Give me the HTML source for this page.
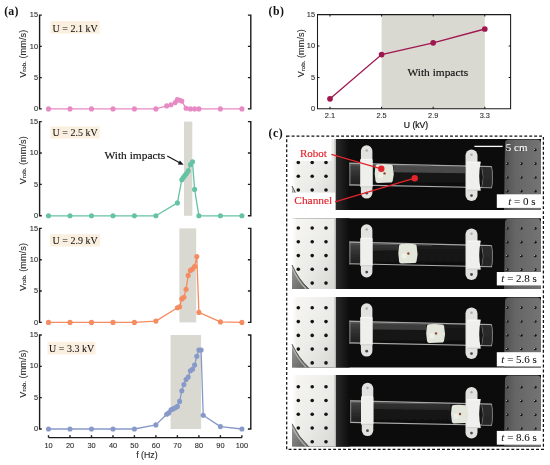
<!DOCTYPE html>
<html lang="en"><head><meta charset="utf-8"><title>Figure</title>
<style>html,body{margin:0;padding:0;background:#fff}svg{display:block}</style>
</head><body>
<svg width="550" height="465" viewBox="0 0 550 465">
<rect width="550" height="465" fill="#fff"/>
<path d="M41.800000000000004,15.1 H39.6 V108.9 H41.800000000000004 M39.6,46.37 h2.2 M39.6,77.63 h2.2 M247.9,15.1 H250.8 V108.9 H247.9 M250.8,46.37 h-2.9 M250.8,77.63 h-2.9" fill="none" stroke="#1c1c1c" stroke-width="1.4"/>
<text x="38.1" y="111.05" text-anchor="end" font-family='"Liberation Sans", Arial, sans-serif' font-size="7.4" fill="#2a2a2a" stroke="#2a2a2a" stroke-width="0.1">0</text>
<text x="38.1" y="79.78" text-anchor="end" font-family='"Liberation Sans", Arial, sans-serif' font-size="7.4" fill="#2a2a2a" stroke="#2a2a2a" stroke-width="0.1">5</text>
<text x="38.1" y="48.52" text-anchor="end" font-family='"Liberation Sans", Arial, sans-serif' font-size="7.4" fill="#2a2a2a" stroke="#2a2a2a" stroke-width="0.1">10</text>
<text x="38.1" y="17.25" text-anchor="end" font-family='"Liberation Sans", Arial, sans-serif' font-size="7.4" fill="#2a2a2a" stroke="#2a2a2a" stroke-width="0.1">15</text>
<text transform="translate(25.6,53.7) rotate(-90)" text-anchor="middle" font-family='"Liberation Sans", Arial, sans-serif' font-size="9.05" fill="#2a2a2a" stroke="#2a2a2a" stroke-width="0.12">V<tspan font-size="6.1" dy="0.7">rob.</tspan><tspan dy="-0.7" letter-spacing="0.12"> (mm/s)</tspan></text>
<rect x="50.5" y="21.0" width="49.1" height="12.6" fill="#FBEFE0"/>
<text x="75.1" y="31.5" text-anchor="middle" font-family='"Liberation Serif", "Times New Roman", serif' font-size="10" fill="#111" stroke="#111" stroke-width="0.06">U = 2.1 kV</text>
<polyline points="48.5,108.9 70.0,108.9 91.5,108.9 113.0,108.9 134.4,108.9 155.9,108.9 166.7,105.9 171.0,104.7 175.3,102.6 177.4,99.5 179.6,100.3 181.8,101.1 186.1,108.3 190.4,108.9 194.6,108.9 198.9,108.9 220.4,108.9 241.9,108.9" fill="none" stroke="#E78AC3" stroke-width="1.3" stroke-linejoin="round"/>
<circle cx="48.5" cy="108.9" r="2.55" fill="#E78AC3"/>
<circle cx="70.0" cy="108.9" r="2.55" fill="#E78AC3"/>
<circle cx="91.5" cy="108.9" r="2.55" fill="#E78AC3"/>
<circle cx="113.0" cy="108.9" r="2.55" fill="#E78AC3"/>
<circle cx="134.4" cy="108.9" r="2.55" fill="#E78AC3"/>
<circle cx="155.9" cy="108.9" r="2.55" fill="#E78AC3"/>
<circle cx="166.7" cy="105.9" r="2.55" fill="#E78AC3"/>
<circle cx="171.0" cy="104.7" r="2.55" fill="#E78AC3"/>
<circle cx="175.3" cy="102.6" r="2.55" fill="#E78AC3"/>
<circle cx="177.4" cy="99.5" r="2.55" fill="#E78AC3"/>
<circle cx="179.6" cy="100.3" r="2.55" fill="#E78AC3"/>
<circle cx="181.8" cy="101.1" r="2.55" fill="#E78AC3"/>
<circle cx="186.1" cy="108.3" r="2.55" fill="#E78AC3"/>
<circle cx="190.4" cy="108.9" r="2.55" fill="#E78AC3"/>
<circle cx="194.6" cy="108.9" r="2.55" fill="#E78AC3"/>
<circle cx="198.9" cy="108.9" r="2.55" fill="#E78AC3"/>
<circle cx="220.4" cy="108.9" r="2.55" fill="#E78AC3"/>
<circle cx="241.9" cy="108.9" r="2.55" fill="#E78AC3"/>
<rect x="184.0" y="121.6" width="8.3" height="94.2" fill="#D9D8D1"/>
<path d="M41.800000000000004,121.6 H39.6 V215.8 H41.800000000000004 M39.6,153.00 h2.2 M39.6,184.40 h2.2 M247.9,121.6 H250.8 V215.8 H247.9 M250.8,153.00 h-2.9 M250.8,184.40 h-2.9" fill="none" stroke="#1c1c1c" stroke-width="1.4"/>
<text x="38.1" y="217.95" text-anchor="end" font-family='"Liberation Sans", Arial, sans-serif' font-size="7.4" fill="#2a2a2a" stroke="#2a2a2a" stroke-width="0.1">0</text>
<text x="38.1" y="186.55" text-anchor="end" font-family='"Liberation Sans", Arial, sans-serif' font-size="7.4" fill="#2a2a2a" stroke="#2a2a2a" stroke-width="0.1">5</text>
<text x="38.1" y="155.15" text-anchor="end" font-family='"Liberation Sans", Arial, sans-serif' font-size="7.4" fill="#2a2a2a" stroke="#2a2a2a" stroke-width="0.1">10</text>
<text x="38.1" y="123.75" text-anchor="end" font-family='"Liberation Sans", Arial, sans-serif' font-size="7.4" fill="#2a2a2a" stroke="#2a2a2a" stroke-width="0.1">15</text>
<text transform="translate(25.6,160.2) rotate(-90)" text-anchor="middle" font-family='"Liberation Sans", Arial, sans-serif' font-size="9.05" fill="#2a2a2a" stroke="#2a2a2a" stroke-width="0.12">V<tspan font-size="6.1" dy="0.7">rob.</tspan><tspan dy="-0.7" letter-spacing="0.12"> (mm/s)</tspan></text>
<rect x="50.5" y="126.4" width="49.1" height="12.1" fill="#FBEFE0"/>
<text x="75.1" y="136.1" text-anchor="middle" font-family='"Liberation Serif", "Times New Roman", serif' font-size="10" fill="#111" stroke="#111" stroke-width="0.06">U = 2.5 kV</text>
<polyline points="48.5,215.8 70.0,215.8 91.5,215.8 113.0,215.8 134.4,215.8 155.9,215.8 177.4,202.9 181.8,179.7 183.3,177.5 184.8,175.6 186.3,173.7 188.2,170.9 190.4,164.6 192.5,161.7 194.6,189.4 198.9,215.8 220.4,215.8 241.9,215.8" fill="none" stroke="#66C2A5" stroke-width="1.3" stroke-linejoin="round"/>
<circle cx="48.5" cy="215.8" r="2.55" fill="#66C2A5"/>
<circle cx="70.0" cy="215.8" r="2.55" fill="#66C2A5"/>
<circle cx="91.5" cy="215.8" r="2.55" fill="#66C2A5"/>
<circle cx="113.0" cy="215.8" r="2.55" fill="#66C2A5"/>
<circle cx="134.4" cy="215.8" r="2.55" fill="#66C2A5"/>
<circle cx="155.9" cy="215.8" r="2.55" fill="#66C2A5"/>
<circle cx="177.4" cy="202.9" r="2.55" fill="#66C2A5"/>
<circle cx="181.8" cy="179.7" r="2.55" fill="#66C2A5"/>
<circle cx="183.3" cy="177.5" r="2.55" fill="#66C2A5"/>
<circle cx="184.8" cy="175.6" r="2.55" fill="#66C2A5"/>
<circle cx="186.3" cy="173.7" r="2.55" fill="#66C2A5"/>
<circle cx="188.2" cy="170.9" r="2.55" fill="#66C2A5"/>
<circle cx="190.4" cy="164.6" r="2.55" fill="#66C2A5"/>
<circle cx="192.5" cy="161.7" r="2.55" fill="#66C2A5"/>
<circle cx="194.6" cy="189.4" r="2.55" fill="#66C2A5"/>
<circle cx="198.9" cy="215.8" r="2.55" fill="#66C2A5"/>
<circle cx="220.4" cy="215.8" r="2.55" fill="#66C2A5"/>
<circle cx="241.9" cy="215.8" r="2.55" fill="#66C2A5"/>
<rect x="179.4" y="228.4" width="16.8" height="94.0" fill="#D9D8D1"/>
<path d="M41.800000000000004,228.4 H39.6 V322.4 H41.800000000000004 M39.6,259.73 h2.2 M39.6,291.07 h2.2 M247.9,228.4 H250.8 V322.4 H247.9 M250.8,259.73 h-2.9 M250.8,291.07 h-2.9" fill="none" stroke="#1c1c1c" stroke-width="1.4"/>
<text x="38.1" y="324.55" text-anchor="end" font-family='"Liberation Sans", Arial, sans-serif' font-size="7.4" fill="#2a2a2a" stroke="#2a2a2a" stroke-width="0.1">0</text>
<text x="38.1" y="293.22" text-anchor="end" font-family='"Liberation Sans", Arial, sans-serif' font-size="7.4" fill="#2a2a2a" stroke="#2a2a2a" stroke-width="0.1">5</text>
<text x="38.1" y="261.88" text-anchor="end" font-family='"Liberation Sans", Arial, sans-serif' font-size="7.4" fill="#2a2a2a" stroke="#2a2a2a" stroke-width="0.1">10</text>
<text x="38.1" y="230.55" text-anchor="end" font-family='"Liberation Sans", Arial, sans-serif' font-size="7.4" fill="#2a2a2a" stroke="#2a2a2a" stroke-width="0.1">15</text>
<text transform="translate(25.6,267.0) rotate(-90)" text-anchor="middle" font-family='"Liberation Sans", Arial, sans-serif' font-size="9.05" fill="#2a2a2a" stroke="#2a2a2a" stroke-width="0.12">V<tspan font-size="6.1" dy="0.7">rob.</tspan><tspan dy="-0.7" letter-spacing="0.12"> (mm/s)</tspan></text>
<rect x="50.0" y="234.2" width="50.0" height="12.3" fill="#FBEFE0"/>
<text x="75.1" y="243.9" text-anchor="middle" font-family='"Liberation Serif", "Times New Roman", serif' font-size="10" fill="#111" stroke="#111" stroke-width="0.06">U = 2.9 kV</text>
<polyline points="48.5,322.4 70.0,322.4 91.5,322.4 113.0,322.4 134.4,322.4 155.9,321.1 177.4,307.7 179.6,306.7 181.8,298.9 183.9,297.3 186.1,289.2 188.2,275.4 190.4,270.4 192.5,269.1 194.6,266.6 196.8,256.6 198.9,312.4 220.4,321.9 241.9,322.4" fill="none" stroke="#F58B61" stroke-width="1.3" stroke-linejoin="round"/>
<circle cx="48.5" cy="322.4" r="2.55" fill="#F58B61"/>
<circle cx="70.0" cy="322.4" r="2.55" fill="#F58B61"/>
<circle cx="91.5" cy="322.4" r="2.55" fill="#F58B61"/>
<circle cx="113.0" cy="322.4" r="2.55" fill="#F58B61"/>
<circle cx="134.4" cy="322.4" r="2.55" fill="#F58B61"/>
<circle cx="155.9" cy="321.1" r="2.55" fill="#F58B61"/>
<circle cx="177.4" cy="307.7" r="2.55" fill="#F58B61"/>
<circle cx="179.6" cy="306.7" r="2.55" fill="#F58B61"/>
<circle cx="181.8" cy="298.9" r="2.55" fill="#F58B61"/>
<circle cx="183.9" cy="297.3" r="2.55" fill="#F58B61"/>
<circle cx="186.1" cy="289.2" r="2.55" fill="#F58B61"/>
<circle cx="188.2" cy="275.4" r="2.55" fill="#F58B61"/>
<circle cx="190.4" cy="270.4" r="2.55" fill="#F58B61"/>
<circle cx="192.5" cy="269.1" r="2.55" fill="#F58B61"/>
<circle cx="194.6" cy="266.6" r="2.55" fill="#F58B61"/>
<circle cx="196.8" cy="256.6" r="2.55" fill="#F58B61"/>
<circle cx="198.9" cy="312.4" r="2.55" fill="#F58B61"/>
<circle cx="220.4" cy="321.9" r="2.55" fill="#F58B61"/>
<circle cx="241.9" cy="322.4" r="2.55" fill="#F58B61"/>
<rect x="170.6" y="335.0" width="30.5" height="94.0" fill="#D9D8D1"/>
<path d="M41.800000000000004,335.0 H39.6 V429.0 H41.800000000000004 M39.6,366.33 h2.2 M39.6,397.67 h2.2 M247.9,335.0 H250.8 V429.0 H247.9 M250.8,366.33 h-2.9 M250.8,397.67 h-2.9" fill="none" stroke="#1c1c1c" stroke-width="1.4"/>
<text x="38.1" y="431.15" text-anchor="end" font-family='"Liberation Sans", Arial, sans-serif' font-size="7.4" fill="#2a2a2a" stroke="#2a2a2a" stroke-width="0.1">0</text>
<text x="38.1" y="399.82" text-anchor="end" font-family='"Liberation Sans", Arial, sans-serif' font-size="7.4" fill="#2a2a2a" stroke="#2a2a2a" stroke-width="0.1">5</text>
<text x="38.1" y="368.48" text-anchor="end" font-family='"Liberation Sans", Arial, sans-serif' font-size="7.4" fill="#2a2a2a" stroke="#2a2a2a" stroke-width="0.1">10</text>
<text x="38.1" y="337.15" text-anchor="end" font-family='"Liberation Sans", Arial, sans-serif' font-size="7.4" fill="#2a2a2a" stroke="#2a2a2a" stroke-width="0.1">15</text>
<text transform="translate(25.6,373.6) rotate(-90)" text-anchor="middle" font-family='"Liberation Sans", Arial, sans-serif' font-size="9.05" fill="#2a2a2a" stroke="#2a2a2a" stroke-width="0.12">V<tspan font-size="6.1" dy="0.7">rob.</tspan><tspan dy="-0.7" letter-spacing="0.12"> (mm/s)</tspan></text>
<rect x="47.5" y="341.9" width="48.0" height="12.4" fill="#FBEFE0"/>
<text x="71.6" y="352.2" text-anchor="middle" font-family='"Liberation Serif", "Times New Roman", serif' font-size="10" fill="#111" stroke="#111" stroke-width="0.06">U = 3.3 kV</text>
<polyline points="48.5,429.0 70.0,429.0 91.5,429.0 113.0,429.0 134.4,429.0 155.9,424.9 166.7,414.3 168.8,412.9 171.0,409.8 173.1,408.9 175.3,407.7 177.4,406.4 179.6,401.4 181.8,390.8 183.9,384.5 186.1,379.5 188.2,377.0 190.4,370.7 192.5,369.2 194.6,365.1 196.8,356.3 198.9,350.0 201.1,350.0 203.2,415.2 220.4,426.6 241.9,429.0" fill="none" stroke="#8799C9" stroke-width="1.3" stroke-linejoin="round"/>
<circle cx="48.5" cy="429.0" r="2.55" fill="#8799C9"/>
<circle cx="70.0" cy="429.0" r="2.55" fill="#8799C9"/>
<circle cx="91.5" cy="429.0" r="2.55" fill="#8799C9"/>
<circle cx="113.0" cy="429.0" r="2.55" fill="#8799C9"/>
<circle cx="134.4" cy="429.0" r="2.55" fill="#8799C9"/>
<circle cx="155.9" cy="424.9" r="2.55" fill="#8799C9"/>
<circle cx="166.7" cy="414.3" r="2.55" fill="#8799C9"/>
<circle cx="168.8" cy="412.9" r="2.55" fill="#8799C9"/>
<circle cx="171.0" cy="409.8" r="2.55" fill="#8799C9"/>
<circle cx="173.1" cy="408.9" r="2.55" fill="#8799C9"/>
<circle cx="175.3" cy="407.7" r="2.55" fill="#8799C9"/>
<circle cx="177.4" cy="406.4" r="2.55" fill="#8799C9"/>
<circle cx="179.6" cy="401.4" r="2.55" fill="#8799C9"/>
<circle cx="181.8" cy="390.8" r="2.55" fill="#8799C9"/>
<circle cx="183.9" cy="384.5" r="2.55" fill="#8799C9"/>
<circle cx="186.1" cy="379.5" r="2.55" fill="#8799C9"/>
<circle cx="188.2" cy="377.0" r="2.55" fill="#8799C9"/>
<circle cx="190.4" cy="370.7" r="2.55" fill="#8799C9"/>
<circle cx="192.5" cy="369.2" r="2.55" fill="#8799C9"/>
<circle cx="194.6" cy="365.1" r="2.55" fill="#8799C9"/>
<circle cx="196.8" cy="356.3" r="2.55" fill="#8799C9"/>
<circle cx="198.9" cy="350.0" r="2.55" fill="#8799C9"/>
<circle cx="201.1" cy="350.0" r="2.55" fill="#8799C9"/>
<circle cx="203.2" cy="415.2" r="2.55" fill="#8799C9"/>
<circle cx="220.4" cy="426.6" r="2.55" fill="#8799C9"/>
<circle cx="241.9" cy="429.0" r="2.55" fill="#8799C9"/>
<text x="104.5" y="158.7" font-family='"Liberation Serif", "Times New Roman", serif' font-size="11.4" fill="#111" stroke="#111" stroke-width="0.15">With impacts</text>
<path d="M167.2,156 L180.6,163.2" stroke="#111" stroke-width="1.1" fill="none"/>
<path d="M183.6,164.8 L177.9,164.4 L179.9,160.6 Z" fill="#111"/>
<path d="M48.5,437.6 H241.9 M48.5,437.6 v-2.3 M70.0,437.6 v-2.3 M91.5,437.6 v-2.3 M113.0,437.6 v-2.3 M134.4,437.6 v-2.3 M155.9,437.6 v-2.3 M177.4,437.6 v-2.3 M198.9,437.6 v-2.3 M220.4,437.6 v-2.3 M241.9,437.6 v-2.3" fill="none" stroke="#1c1c1c" stroke-width="1.4"/>
<text x="48.5" y="447.6" text-anchor="middle" font-family='"Liberation Sans", Arial, sans-serif' font-size="7.4" fill="#2a2a2a" stroke="#2a2a2a" stroke-width="0.1">10</text>
<text x="70.0" y="447.6" text-anchor="middle" font-family='"Liberation Sans", Arial, sans-serif' font-size="7.4" fill="#2a2a2a" stroke="#2a2a2a" stroke-width="0.1">20</text>
<text x="91.5" y="447.6" text-anchor="middle" font-family='"Liberation Sans", Arial, sans-serif' font-size="7.4" fill="#2a2a2a" stroke="#2a2a2a" stroke-width="0.1">30</text>
<text x="113.0" y="447.6" text-anchor="middle" font-family='"Liberation Sans", Arial, sans-serif' font-size="7.4" fill="#2a2a2a" stroke="#2a2a2a" stroke-width="0.1">40</text>
<text x="134.4" y="447.6" text-anchor="middle" font-family='"Liberation Sans", Arial, sans-serif' font-size="7.4" fill="#2a2a2a" stroke="#2a2a2a" stroke-width="0.1">50</text>
<text x="155.9" y="447.6" text-anchor="middle" font-family='"Liberation Sans", Arial, sans-serif' font-size="7.4" fill="#2a2a2a" stroke="#2a2a2a" stroke-width="0.1">60</text>
<text x="177.4" y="447.6" text-anchor="middle" font-family='"Liberation Sans", Arial, sans-serif' font-size="7.4" fill="#2a2a2a" stroke="#2a2a2a" stroke-width="0.1">70</text>
<text x="198.9" y="447.6" text-anchor="middle" font-family='"Liberation Sans", Arial, sans-serif' font-size="7.4" fill="#2a2a2a" stroke="#2a2a2a" stroke-width="0.1">80</text>
<text x="220.4" y="447.6" text-anchor="middle" font-family='"Liberation Sans", Arial, sans-serif' font-size="7.4" fill="#2a2a2a" stroke="#2a2a2a" stroke-width="0.1">90</text>
<text x="241.9" y="447.6" text-anchor="middle" font-family='"Liberation Sans", Arial, sans-serif' font-size="7.4" fill="#2a2a2a" stroke="#2a2a2a" stroke-width="0.1">100</text>
<text x="146.9" y="458.3" text-anchor="middle" font-family='"Liberation Sans", Arial, sans-serif' font-size="8.8" fill="#2a2a2a" stroke="#2a2a2a" stroke-width="0.12">f (Hz)</text>
<text x="4.2" y="15.3" letter-spacing="0.2" font-family='"Liberation Serif", "Times New Roman", serif' font-weight="bold" font-size="11.8" fill="#111">(a)</text>
<text x="268.5" y="15.3" letter-spacing="0.55" font-family='"Liberation Serif", "Times New Roman", serif' font-weight="bold" font-size="11.8" fill="#111">(b)</text>
<text x="268.5" y="136.5" letter-spacing="0.55" font-family='"Liberation Serif", "Times New Roman", serif' font-weight="bold" font-size="11.8" fill="#111">(c)</text>
<rect x="381.6" y="14.6" width="103.2" height="94.2" fill="#D9D8D1"/>
<path d="M317.5,14.6 H510.6 V108.75 H317.5 Z M330.0,108.75 v-2 M330.0,14.6 v2 M381.6,108.75 v-2 M381.6,14.6 v2 M433.2,108.75 v-2 M433.2,14.6 v2 M484.8,108.75 v-2 M484.8,14.6 v2 M317.5,77.4 h2 M510.6,77.4 h-2 M317.5,46.0 h2 M510.6,46.0 h-2" fill="none" stroke="#1a1a1a" stroke-width="1.05"/>
<text x="315.1" y="111.00" text-anchor="end" font-family='"Liberation Sans", Arial, sans-serif' font-size="7.4" fill="#2a2a2a" stroke="#2a2a2a" stroke-width="0.1">0</text>
<text x="315.1" y="79.62" text-anchor="end" font-family='"Liberation Sans", Arial, sans-serif' font-size="7.4" fill="#2a2a2a" stroke="#2a2a2a" stroke-width="0.1">5</text>
<text x="315.1" y="48.23" text-anchor="end" font-family='"Liberation Sans", Arial, sans-serif' font-size="7.4" fill="#2a2a2a" stroke="#2a2a2a" stroke-width="0.1">10</text>
<text x="315.1" y="16.85" text-anchor="end" font-family='"Liberation Sans", Arial, sans-serif' font-size="7.4" fill="#2a2a2a" stroke="#2a2a2a" stroke-width="0.1">15</text>
<text x="330.0" y="117.8" text-anchor="middle" font-family='"Liberation Sans", Arial, sans-serif' font-size="7.4" fill="#2a2a2a" stroke="#2a2a2a" stroke-width="0.1">2.1</text>
<text x="381.6" y="117.8" text-anchor="middle" font-family='"Liberation Sans", Arial, sans-serif' font-size="7.4" fill="#2a2a2a" stroke="#2a2a2a" stroke-width="0.1">2.5</text>
<text x="433.2" y="117.8" text-anchor="middle" font-family='"Liberation Sans", Arial, sans-serif' font-size="7.4" fill="#2a2a2a" stroke="#2a2a2a" stroke-width="0.1">2.9</text>
<text x="484.8" y="117.8" text-anchor="middle" font-family='"Liberation Sans", Arial, sans-serif' font-size="7.4" fill="#2a2a2a" stroke="#2a2a2a" stroke-width="0.1">3.3</text>
<text x="416.0" y="127.8" text-anchor="middle" font-family='"Liberation Sans", Arial, sans-serif' font-size="8.6" fill="#111" stroke="#111" stroke-width="0.2">U (kV)</text>
<text transform="translate(303.9,53.2) rotate(-90)" text-anchor="middle" font-family='"Liberation Sans", Arial, sans-serif' font-size="9.05" fill="#2a2a2a" stroke="#2a2a2a" stroke-width="0.12">V<tspan font-size="6.1" dy="0.7">rob.</tspan><tspan dy="-0.7" letter-spacing="0.12"> (mm/s)</tspan></text>
<polyline points="330.0,98.8 381.6,54.6 433.2,42.8 484.8,29.0" fill="none" stroke="#A0174F" stroke-width="1.3"/>
<circle cx="330.0" cy="98.8" r="2.85" fill="#A0174F"/>
<circle cx="381.6" cy="54.6" r="2.85" fill="#A0174F"/>
<circle cx="433.2" cy="42.8" r="2.85" fill="#A0174F"/>
<circle cx="484.8" cy="29.0" r="2.85" fill="#A0174F"/>
<text x="437.8" y="76.2" text-anchor="middle" font-family='"Liberation Serif", "Times New Roman", serif' font-size="11.4" fill="#111" stroke="#111" stroke-width="0.15">With impacts</text>
<defs><linearGradient id="gl" x1="0" y1="0" x2="1" y2="1"><stop offset="0" stop-color="#f8f7f3"/><stop offset="0.55" stop-color="#ebebe8"/><stop offset="1" stop-color="#d6d6d2"/></linearGradient><linearGradient id="gr" x1="0" y1="0" x2="1" y2="0"><stop offset="0" stop-color="#505050"/><stop offset="0.3" stop-color="#656565"/><stop offset="1" stop-color="#747474"/></linearGradient><linearGradient id="gt" x1="0" y1="0" x2="0" y2="1"><stop offset="0" stop-color="#232323"/><stop offset="0.4" stop-color="#161616"/><stop offset="1" stop-color="#0f0f0f"/></linearGradient><filter id="bl" x="-5%" y="-10%" width="110%" height="120%"><feGaussianBlur stdDeviation="0.32"/></filter><linearGradient id="gtl" x1="0" y1="0" x2="0" y2="1"><stop offset="0" stop-color="#4a4a4a"/><stop offset="0.5" stop-color="#303030"/><stop offset="1" stop-color="#1c1c1c"/></linearGradient><linearGradient id="gs" x1="0" y1="0" x2="1" y2="0"><stop offset="0" stop-color="#2a2a2a"/><stop offset="1" stop-color="#0c0c0c"/></linearGradient><linearGradient id="gw" x1="0" y1="0" x2="1" y2="0"><stop offset="0" stop-color="#ffffff"/><stop offset="1" stop-color="#ffffff" stop-opacity="0"/></linearGradient><linearGradient id="gc" x1="0" y1="0" x2="1" y2="1"><stop offset="0" stop-color="#9a9a98"/><stop offset="1" stop-color="#5a5a58"/></linearGradient></defs>
<rect x="286.7" y="136.2" width="256.7" height="313.1" fill="none" stroke="#111" stroke-width="1.25" stroke-dasharray="2.9 2.05"/>
<g transform="translate(0,139.0)"><rect x="292.0" y="0" width="249.0" height="71.0" fill="#0c0c0c"/><rect x="335.6" y="0" width="14" height="71.0" fill="url(#gs)"/><rect x="292.0" y="0" width="43.6" height="71.0" fill="url(#gl)"/><rect x="292.0" y="0" width="5" height="71.0" fill="url(#gw)"/><rect x="334.0" y="0" width="1.6" height="71.0" fill="#d0d0cc"/><circle cx="298.3" cy="9.7" r="1.8" fill="#141414"/><circle cx="298.3" cy="23.5" r="1.8" fill="#141414"/><circle cx="298.3" cy="37.3" r="1.8" fill="#141414"/><circle cx="298.3" cy="51.0" r="1.8" fill="#141414"/><circle cx="312.2" cy="9.7" r="1.8" fill="#141414"/><circle cx="312.2" cy="23.5" r="1.8" fill="#141414"/><circle cx="312.2" cy="37.3" r="1.8" fill="#141414"/><circle cx="312.2" cy="51.0" r="1.8" fill="#141414"/><circle cx="312.2" cy="64.8" r="1.8" fill="#141414"/><circle cx="326.0" cy="9.7" r="1.8" fill="#141414"/><circle cx="326.0" cy="23.5" r="1.8" fill="#141414"/><circle cx="326.0" cy="37.3" r="1.8" fill="#141414"/><circle cx="326.0" cy="51.0" r="1.8" fill="#141414"/><circle cx="326.0" cy="64.8" r="1.8" fill="#141414"/><path d="M292.0,47.0 Q298.5,61.5 308.8,71.0 L292.0,71.0 Z" fill="url(#gc)"/><path d="M292.0,47.0 Q298.5,61.5 308.8,71.0" fill="none" stroke="#4a4a48" stroke-width="0.9"/><path d="M292.0,49.2 Q297.5,62.5 306.2,71.0" fill="none" stroke="#b9b9b6" stroke-width="1.1"/><path d="M504.0,71.0 L505.0,4 Q505.2,0.4 509,0.4 H537.0 Q541.0,0.4 541.0,4.5 V71.0 Z" fill="url(#gr)"/><circle cx="507.3" cy="10.9" r="1.35" fill="#161616"/><circle cx="506.6" cy="10.4" r="0.5" fill="#e8e8e8"/><circle cx="507.3" cy="24.7" r="1.35" fill="#161616"/><circle cx="506.6" cy="24.2" r="0.5" fill="#e8e8e8"/><circle cx="507.3" cy="38.5" r="1.35" fill="#161616"/><circle cx="506.6" cy="38.0" r="0.5" fill="#e8e8e8"/><circle cx="507.3" cy="52.2" r="1.35" fill="#161616"/><circle cx="506.6" cy="51.7" r="0.5" fill="#e8e8e8"/><circle cx="507.3" cy="65.9" r="1.35" fill="#161616"/><circle cx="506.6" cy="65.4" r="0.5" fill="#e8e8e8"/><circle cx="521.3" cy="10.9" r="1.35" fill="#161616"/><circle cx="520.6" cy="10.4" r="0.5" fill="#e8e8e8"/><circle cx="521.3" cy="24.7" r="1.35" fill="#161616"/><circle cx="520.6" cy="24.2" r="0.5" fill="#e8e8e8"/><circle cx="521.3" cy="38.5" r="1.35" fill="#161616"/><circle cx="520.6" cy="38.0" r="0.5" fill="#e8e8e8"/><circle cx="521.3" cy="52.2" r="1.35" fill="#161616"/><circle cx="520.6" cy="51.7" r="0.5" fill="#e8e8e8"/><circle cx="521.3" cy="65.9" r="1.35" fill="#161616"/><circle cx="520.6" cy="65.4" r="0.5" fill="#e8e8e8"/><circle cx="535.3" cy="10.9" r="1.35" fill="#161616"/><circle cx="534.6" cy="10.4" r="0.5" fill="#e8e8e8"/><circle cx="535.3" cy="24.7" r="1.35" fill="#161616"/><circle cx="534.6" cy="24.2" r="0.5" fill="#e8e8e8"/><circle cx="535.3" cy="38.5" r="1.35" fill="#161616"/><circle cx="534.6" cy="38.0" r="0.5" fill="#e8e8e8"/><circle cx="535.3" cy="52.2" r="1.35" fill="#161616"/><circle cx="534.6" cy="51.7" r="0.5" fill="#e8e8e8"/><circle cx="535.3" cy="65.9" r="1.35" fill="#161616"/><circle cx="534.6" cy="65.4" r="0.5" fill="#e8e8e8"/><g transform="translate(0,0.4)" filter="url(#bl)"><path d="M349.4,23.0 L491.4,27.0 Q493.4,37.9 491.4,48.8 L349.4,46.2 Z" fill="url(#gt)"/><path d="M349.4,23.0 L361,23.35 V46.45 L349.4,46.2 Z" fill="url(#gtl)"/><path d="M393.5,25.24 L465,27.26 V33.76 L393.5,32.74 Z" fill="#5a5a5a" opacity="0.75"/><path d="M349.4,23.9 L491.4,27.3" stroke="#a6a6a6" stroke-width="1.25"/><path d="M349.4,25.6 L431.4,26.8" stroke="#5a5a5a" stroke-width="0.9"/><path d="M349.4,45.5 L491.4,48.4" stroke="#adadad" stroke-width="1.15"/><path d="M349.9,23.0 V46.2" stroke="#8a8a8a" stroke-width="1"/><path d="M491.4,27.0 Q493.4,37.9 491.4,48.8" stroke="#a0a0a0" stroke-width="1.1" fill="none"/><path d="M481.9,28.0 Q484.9,37.9 481.9,47.8" stroke="#7c7c7c" stroke-width="0.9" fill="none"/><path d="M481.9,28.0 Q484.9,37.9 481.9,47.8 L491.4,47.8 Q493.4,37.9 491.4,28.0 Z" fill="#2e2e2e" opacity="0.8"/><path d="M377.5,24.900000000000002 Q384.1,24.0 390.7,25.1 Q393.2,25.200000000000003 393.0,28.6 L393.8,34.9 L392.9,40.400000000000006 Q392.8,43.400000000000006 390.2,43.2 L378.0,43.60000000000001 Q375.3,43.400000000000006 375.4,40.400000000000006 L374.7,34.0 L375.3,27.6 Q375.2,25.0 377.5,24.900000000000002 Z" fill="#e3e6db"/><circle cx="384.6" cy="34.0" r="1.2" fill="#8c4526"/><circle cx="380.5" cy="36.3" r="2.6" fill="#f3f3ec" opacity="0.7"/><rect x="360.9" y="5.9" width="11.5" height="53.3" rx="5.8" fill="#e2e2e0"/><rect x="360.2" y="19.6" width="12.4" height="28.2" rx="1.2" fill="#efefed"/><path d="M360.7,20.0 H372.1" stroke="#f8f8f6" stroke-width="1"/><path d="M360.7,47.4 H372.1" stroke="#c4c4c0" stroke-width="0.8"/><circle cx="366.7" cy="11.100000000000001" r="1.2" fill="#aaaaa6"/><circle cx="366.7" cy="53.800000000000004" r="1.4" fill="#4a4a4a"/><rect x="465.5" y="10.2" width="12.0" height="51.4" rx="6.0" fill="#e2e2e0"/><path d="M466.6,22.4 H480.8 Q477.6,36.8 480.8,51.2 H466.6 Q465.8,36.8 466.6,22.4 Z" fill="#efefed"/><path d="M467.1,22.799999999999997 H480.3" stroke="#f8f8f6" stroke-width="1"/><path d="M467.1,50.800000000000004 H480.3" stroke="#c4c4c0" stroke-width="0.8"/><circle cx="471.5" cy="15.399999999999999" r="1.2" fill="#aaaaa6"/><circle cx="471.5" cy="56.2" r="1.4" fill="#4a4a4a"/></g><rect x="496.8" y="55.3" width="44.2" height="13.60" fill="#fff"/><text x="535.6" y="65.8" text-anchor="end" font-family='"Liberation Serif", "Times New Roman", serif' font-size="11" fill="#111" stroke="#111" stroke-width="0.05"><tspan font-style="italic">t</tspan> = 0 s</text><path d="M474.4,7.4 H502.6" stroke="#fff" stroke-width="1.3"/><text x="505.8" y="11.8" font-family='"Liberation Serif", "Times New Roman", serif' font-size="11" fill="#fff" stroke="#fff" stroke-width="0.05">5 cm</text><rect x="292.0" y="0" width="39.5" height="21.8" fill="#fff"/><rect x="292.0" y="53.6" width="43" height="17.4" fill="#fff"/><text x="300" y="18.4" font-family='"Liberation Serif", "Times New Roman", serif' font-size="11" fill="#E3242B" stroke="#E3242B" stroke-width="0.15">Robot</text><text x="294.3" y="65.2" font-family='"Liberation Serif", "Times New Roman", serif' font-size="11.4" fill="#E3242B" stroke="#E3242B" stroke-width="0.15">Channel</text><path d="M331.4,15.3 L381.3,29.8" stroke="#E3242B" stroke-width="1.3"/><path d="M335,62.8 L414.7,39.2" stroke="#E3242B" stroke-width="1.3"/><circle cx="381.3" cy="29.8" r="3.2" fill="#E3242B"/><circle cx="414.7" cy="39.2" r="3.2" fill="#E3242B"/></g>
<g transform="translate(0,218.3)"><rect x="292.0" y="0" width="249.0" height="70.7" fill="#0c0c0c"/><rect x="335.6" y="0" width="14" height="70.7" fill="url(#gs)"/><rect x="292.0" y="0" width="43.6" height="70.7" fill="url(#gl)"/><rect x="292.0" y="0" width="5" height="70.7" fill="url(#gw)"/><rect x="334.0" y="0" width="1.6" height="70.7" fill="#d0d0cc"/><circle cx="298.3" cy="9.7" r="1.8" fill="#141414"/><circle cx="298.3" cy="23.5" r="1.8" fill="#141414"/><circle cx="298.3" cy="37.3" r="1.8" fill="#141414"/><circle cx="298.3" cy="51.0" r="1.8" fill="#141414"/><circle cx="312.2" cy="9.7" r="1.8" fill="#141414"/><circle cx="312.2" cy="23.5" r="1.8" fill="#141414"/><circle cx="312.2" cy="37.3" r="1.8" fill="#141414"/><circle cx="312.2" cy="51.0" r="1.8" fill="#141414"/><circle cx="312.2" cy="64.8" r="1.8" fill="#141414"/><circle cx="326.0" cy="9.7" r="1.8" fill="#141414"/><circle cx="326.0" cy="23.5" r="1.8" fill="#141414"/><circle cx="326.0" cy="37.3" r="1.8" fill="#141414"/><circle cx="326.0" cy="51.0" r="1.8" fill="#141414"/><circle cx="326.0" cy="64.8" r="1.8" fill="#141414"/><path d="M292.0,46.7 Q298.5,61.2 308.8,70.7 L292.0,70.7 Z" fill="url(#gc)"/><path d="M292.0,46.7 Q298.5,61.2 308.8,70.7" fill="none" stroke="#4a4a48" stroke-width="0.9"/><path d="M292.0,48.9 Q297.5,62.2 306.2,70.7" fill="none" stroke="#b9b9b6" stroke-width="1.1"/><path d="M504.0,70.7 L505.0,4 Q505.2,0.4 509,0.4 H537.0 Q541.0,0.4 541.0,4.5 V70.7 Z" fill="url(#gr)"/><circle cx="507.3" cy="10.1" r="1.35" fill="#161616"/><circle cx="506.6" cy="9.6" r="0.5" fill="#e8e8e8"/><circle cx="507.3" cy="23.9" r="1.35" fill="#161616"/><circle cx="506.6" cy="23.4" r="0.5" fill="#e8e8e8"/><circle cx="507.3" cy="37.7" r="1.35" fill="#161616"/><circle cx="506.6" cy="37.2" r="0.5" fill="#e8e8e8"/><circle cx="507.3" cy="51.4" r="1.35" fill="#161616"/><circle cx="506.6" cy="50.9" r="0.5" fill="#e8e8e8"/><circle cx="507.3" cy="65.1" r="1.35" fill="#161616"/><circle cx="506.6" cy="64.6" r="0.5" fill="#e8e8e8"/><circle cx="521.3" cy="10.1" r="1.35" fill="#161616"/><circle cx="520.6" cy="9.6" r="0.5" fill="#e8e8e8"/><circle cx="521.3" cy="23.9" r="1.35" fill="#161616"/><circle cx="520.6" cy="23.4" r="0.5" fill="#e8e8e8"/><circle cx="521.3" cy="37.7" r="1.35" fill="#161616"/><circle cx="520.6" cy="37.2" r="0.5" fill="#e8e8e8"/><circle cx="521.3" cy="51.4" r="1.35" fill="#161616"/><circle cx="520.6" cy="50.9" r="0.5" fill="#e8e8e8"/><circle cx="521.3" cy="65.1" r="1.35" fill="#161616"/><circle cx="520.6" cy="64.6" r="0.5" fill="#e8e8e8"/><circle cx="535.3" cy="10.1" r="1.35" fill="#161616"/><circle cx="534.6" cy="9.6" r="0.5" fill="#e8e8e8"/><circle cx="535.3" cy="23.9" r="1.35" fill="#161616"/><circle cx="534.6" cy="23.4" r="0.5" fill="#e8e8e8"/><circle cx="535.3" cy="37.7" r="1.35" fill="#161616"/><circle cx="534.6" cy="37.2" r="0.5" fill="#e8e8e8"/><circle cx="535.3" cy="51.4" r="1.35" fill="#161616"/><circle cx="534.6" cy="50.9" r="0.5" fill="#e8e8e8"/><circle cx="535.3" cy="65.1" r="1.35" fill="#161616"/><circle cx="534.6" cy="64.6" r="0.5" fill="#e8e8e8"/><g transform="translate(0,0.0)" filter="url(#bl)"><path d="M349.4,23.0 L491.4,27.0 Q493.4,37.9 491.4,48.8 L349.4,46.2 Z" fill="url(#gt)"/><path d="M349.4,23.0 L361,23.35 V46.45 L349.4,46.2 Z" fill="url(#gtl)"/><path d="M373,24.66 L398,25.37 V31.87 L373,32.16 Z" fill="#5a5a5a" opacity="0.35"/><path d="M349.4,23.9 L491.4,27.3" stroke="#a6a6a6" stroke-width="1.25"/><path d="M349.4,25.6 L431.4,26.8" stroke="#5a5a5a" stroke-width="0.9"/><path d="M349.4,45.5 L491.4,48.4" stroke="#adadad" stroke-width="1.15"/><path d="M349.9,23.0 V46.2" stroke="#8a8a8a" stroke-width="1"/><path d="M491.4,27.0 Q493.4,37.9 491.4,48.8" stroke="#a0a0a0" stroke-width="1.1" fill="none"/><path d="M481.9,28.0 Q484.9,37.9 481.9,47.8" stroke="#7c7c7c" stroke-width="0.9" fill="none"/><path d="M481.9,28.0 Q484.9,37.9 481.9,47.8 L491.4,47.8 Q493.4,37.9 491.4,28.0 Z" fill="#2e2e2e" opacity="0.8"/><path d="M401.1,25.7 Q407.8,24.799999999999997 414.5,25.9 Q417.0,26.0 416.8,29.4 L417.6,36.2 L416.7,42.0 Q416.6,45.0 414.0,44.8 L401.6,45.2 Q398.90000000000003,45.0 399.0,42.0 L398.3,35.2 L398.90000000000003,28.4 Q398.8,25.799999999999997 401.1,25.7 Z" fill="#e3e6db"/><circle cx="408.4" cy="35.2" r="1.2" fill="#8c4526"/><circle cx="404.1" cy="37.6" r="2.6" fill="#f3f3ec" opacity="0.7"/><rect x="360.9" y="5.9" width="11.5" height="53.3" rx="5.8" fill="#e2e2e0"/><rect x="360.2" y="19.6" width="12.4" height="28.2" rx="1.2" fill="#efefed"/><path d="M360.7,20.0 H372.1" stroke="#f8f8f6" stroke-width="1"/><path d="M360.7,47.4 H372.1" stroke="#c4c4c0" stroke-width="0.8"/><circle cx="366.7" cy="11.100000000000001" r="1.2" fill="#aaaaa6"/><circle cx="366.7" cy="53.800000000000004" r="1.4" fill="#4a4a4a"/><rect x="465.5" y="10.2" width="12.0" height="51.4" rx="6.0" fill="#e2e2e0"/><path d="M466.6,22.4 H480.8 Q477.6,36.8 480.8,51.2 H466.6 Q465.8,36.8 466.6,22.4 Z" fill="#efefed"/><path d="M467.1,22.799999999999997 H480.3" stroke="#f8f8f6" stroke-width="1"/><path d="M467.1,50.800000000000004 H480.3" stroke="#c4c4c0" stroke-width="0.8"/><circle cx="471.5" cy="15.399999999999999" r="1.2" fill="#aaaaa6"/><circle cx="471.5" cy="56.2" r="1.4" fill="#4a4a4a"/></g><rect x="496.8" y="53.7" width="44.2" height="13.40" fill="#fff"/><text x="536.9" y="64.2" text-anchor="end" font-family='"Liberation Serif", "Times New Roman", serif' font-size="11" fill="#111" stroke="#111" stroke-width="0.05"><tspan font-style="italic">t</tspan> = 2.8 s</text></g>
<g transform="translate(0,297.0)"><rect x="292.0" y="0" width="249.0" height="70.5" fill="#0c0c0c"/><rect x="335.6" y="0" width="14" height="70.5" fill="url(#gs)"/><rect x="292.0" y="0" width="43.6" height="70.5" fill="url(#gl)"/><rect x="292.0" y="0" width="5" height="70.5" fill="url(#gw)"/><rect x="334.0" y="0" width="1.6" height="70.5" fill="#d0d0cc"/><circle cx="298.3" cy="10.8" r="1.8" fill="#141414"/><circle cx="298.3" cy="24.6" r="1.8" fill="#141414"/><circle cx="298.3" cy="38.4" r="1.8" fill="#141414"/><circle cx="298.3" cy="52.1" r="1.8" fill="#141414"/><circle cx="312.2" cy="10.8" r="1.8" fill="#141414"/><circle cx="312.2" cy="24.6" r="1.8" fill="#141414"/><circle cx="312.2" cy="38.4" r="1.8" fill="#141414"/><circle cx="312.2" cy="52.1" r="1.8" fill="#141414"/><circle cx="312.2" cy="65.9" r="1.8" fill="#141414"/><circle cx="326.0" cy="10.8" r="1.8" fill="#141414"/><circle cx="326.0" cy="24.6" r="1.8" fill="#141414"/><circle cx="326.0" cy="38.4" r="1.8" fill="#141414"/><circle cx="326.0" cy="52.1" r="1.8" fill="#141414"/><circle cx="326.0" cy="65.9" r="1.8" fill="#141414"/><path d="M292.0,47.2 Q298.5,61.0 308.8,70.5 L292.0,70.5 Z" fill="url(#gc)"/><path d="M292.0,47.2 Q298.5,61.0 308.8,70.5" fill="none" stroke="#4a4a48" stroke-width="0.9"/><path d="M292.0,49.4 Q297.5,62.0 306.2,70.5" fill="none" stroke="#b9b9b6" stroke-width="1.1"/><path d="M504.0,70.5 L505.0,4 Q505.2,0.4 509,0.4 H537.0 Q541.0,0.4 541.0,4.5 V70.5 Z" fill="url(#gr)"/><circle cx="507.3" cy="10.7" r="1.35" fill="#161616"/><circle cx="506.6" cy="10.2" r="0.5" fill="#e8e8e8"/><circle cx="507.3" cy="24.5" r="1.35" fill="#161616"/><circle cx="506.6" cy="24.0" r="0.5" fill="#e8e8e8"/><circle cx="507.3" cy="38.3" r="1.35" fill="#161616"/><circle cx="506.6" cy="37.8" r="0.5" fill="#e8e8e8"/><circle cx="507.3" cy="52.0" r="1.35" fill="#161616"/><circle cx="506.6" cy="51.5" r="0.5" fill="#e8e8e8"/><circle cx="507.3" cy="65.7" r="1.35" fill="#161616"/><circle cx="506.6" cy="65.2" r="0.5" fill="#e8e8e8"/><circle cx="521.3" cy="10.7" r="1.35" fill="#161616"/><circle cx="520.6" cy="10.2" r="0.5" fill="#e8e8e8"/><circle cx="521.3" cy="24.5" r="1.35" fill="#161616"/><circle cx="520.6" cy="24.0" r="0.5" fill="#e8e8e8"/><circle cx="521.3" cy="38.3" r="1.35" fill="#161616"/><circle cx="520.6" cy="37.8" r="0.5" fill="#e8e8e8"/><circle cx="521.3" cy="52.0" r="1.35" fill="#161616"/><circle cx="520.6" cy="51.5" r="0.5" fill="#e8e8e8"/><circle cx="521.3" cy="65.7" r="1.35" fill="#161616"/><circle cx="520.6" cy="65.2" r="0.5" fill="#e8e8e8"/><circle cx="535.3" cy="10.7" r="1.35" fill="#161616"/><circle cx="534.6" cy="10.2" r="0.5" fill="#e8e8e8"/><circle cx="535.3" cy="24.5" r="1.35" fill="#161616"/><circle cx="534.6" cy="24.0" r="0.5" fill="#e8e8e8"/><circle cx="535.3" cy="38.3" r="1.35" fill="#161616"/><circle cx="534.6" cy="37.8" r="0.5" fill="#e8e8e8"/><circle cx="535.3" cy="52.0" r="1.35" fill="#161616"/><circle cx="534.6" cy="51.5" r="0.5" fill="#e8e8e8"/><circle cx="535.3" cy="65.7" r="1.35" fill="#161616"/><circle cx="534.6" cy="65.2" r="0.5" fill="#e8e8e8"/><g transform="translate(0,0.4)" filter="url(#bl)"><path d="M349.4,23.0 L491.4,27.0 Q493.4,37.9 491.4,48.8 L349.4,46.2 Z" fill="url(#gt)"/><path d="M349.4,23.0 L361,23.35 V46.45 L349.4,46.2 Z" fill="url(#gtl)"/><path d="M373,24.66 L426,26.16 V32.66 L373,32.16 Z" fill="#5a5a5a" opacity="0.55"/><path d="M349.4,23.9 L491.4,27.3" stroke="#a6a6a6" stroke-width="1.25"/><path d="M349.4,25.6 L431.4,26.8" stroke="#5a5a5a" stroke-width="0.9"/><path d="M349.4,45.5 L491.4,48.4" stroke="#adadad" stroke-width="1.15"/><path d="M349.9,23.0 V46.2" stroke="#8a8a8a" stroke-width="1"/><path d="M491.4,27.0 Q493.4,37.9 491.4,48.8" stroke="#a0a0a0" stroke-width="1.1" fill="none"/><path d="M481.9,28.0 Q484.9,37.9 481.9,47.8" stroke="#7c7c7c" stroke-width="0.9" fill="none"/><path d="M481.9,28.0 Q484.9,37.9 481.9,47.8 L491.4,47.8 Q493.4,37.9 491.4,28.0 Z" fill="#2e2e2e" opacity="0.8"/><path d="M429.0,26.900000000000002 Q435.5,26.0 442.0,27.1 Q444.5,27.200000000000003 444.3,30.6 L445.1,36.9 L444.2,42.400000000000006 Q444.1,45.400000000000006 441.5,45.2 L429.5,45.60000000000001 Q426.8,45.400000000000006 426.9,42.400000000000006 L426.2,36.0 L426.8,29.6 Q426.7,27.0 429.0,26.900000000000002 Z" fill="#e3e6db"/><circle cx="436.0" cy="36.0" r="1.2" fill="#8c4526"/><circle cx="431.9" cy="38.3" r="2.6" fill="#f3f3ec" opacity="0.7"/><rect x="360.9" y="5.9" width="11.5" height="53.3" rx="5.8" fill="#e2e2e0"/><rect x="360.2" y="19.6" width="12.4" height="28.2" rx="1.2" fill="#efefed"/><path d="M360.7,20.0 H372.1" stroke="#f8f8f6" stroke-width="1"/><path d="M360.7,47.4 H372.1" stroke="#c4c4c0" stroke-width="0.8"/><circle cx="366.7" cy="11.100000000000001" r="1.2" fill="#aaaaa6"/><circle cx="366.7" cy="53.800000000000004" r="1.4" fill="#4a4a4a"/><rect x="465.5" y="10.2" width="12.0" height="51.4" rx="6.0" fill="#e2e2e0"/><path d="M466.6,22.4 H480.8 Q477.6,36.8 480.8,51.2 H466.6 Q465.8,36.8 466.6,22.4 Z" fill="#efefed"/><path d="M467.1,22.799999999999997 H480.3" stroke="#f8f8f6" stroke-width="1"/><path d="M467.1,50.800000000000004 H480.3" stroke="#c4c4c0" stroke-width="0.8"/><circle cx="471.5" cy="15.399999999999999" r="1.2" fill="#aaaaa6"/><circle cx="471.5" cy="56.2" r="1.4" fill="#4a4a4a"/></g><rect x="496.8" y="55.2" width="44.2" height="14.20" fill="#fff"/><text x="536.9" y="65.9" text-anchor="end" font-family='"Liberation Serif", "Times New Roman", serif' font-size="11" fill="#111" stroke="#111" stroke-width="0.05"><tspan font-style="italic">t</tspan> = 5.6 s</text></g>
<g transform="translate(0,375.0)"><rect x="292.0" y="0" width="249.0" height="71.6" fill="#0c0c0c"/><rect x="335.6" y="0" width="14" height="71.6" fill="url(#gs)"/><rect x="292.0" y="0" width="43.6" height="71.6" fill="url(#gl)"/><rect x="292.0" y="0" width="5" height="71.6" fill="url(#gw)"/><rect x="334.0" y="0" width="1.6" height="71.6" fill="#d0d0cc"/><circle cx="298.3" cy="11.7" r="1.8" fill="#141414"/><circle cx="298.3" cy="25.5" r="1.8" fill="#141414"/><circle cx="298.3" cy="39.3" r="1.8" fill="#141414"/><circle cx="298.3" cy="53.0" r="1.8" fill="#141414"/><circle cx="312.2" cy="11.7" r="1.8" fill="#141414"/><circle cx="312.2" cy="25.5" r="1.8" fill="#141414"/><circle cx="312.2" cy="39.3" r="1.8" fill="#141414"/><circle cx="312.2" cy="53.0" r="1.8" fill="#141414"/><circle cx="312.2" cy="66.8" r="1.8" fill="#141414"/><circle cx="326.0" cy="11.7" r="1.8" fill="#141414"/><circle cx="326.0" cy="25.5" r="1.8" fill="#141414"/><circle cx="326.0" cy="39.3" r="1.8" fill="#141414"/><circle cx="326.0" cy="53.0" r="1.8" fill="#141414"/><circle cx="326.0" cy="66.8" r="1.8" fill="#141414"/><path d="M292.0,48.8 Q298.5,62.1 308.8,71.6 L292.0,71.6 Z" fill="url(#gc)"/><path d="M292.0,48.8 Q298.5,62.1 308.8,71.6" fill="none" stroke="#4a4a48" stroke-width="0.9"/><path d="M292.0,51.0 Q297.5,63.1 306.2,71.6" fill="none" stroke="#b9b9b6" stroke-width="1.1"/><path d="M504.0,71.6 L505.0,4 Q505.2,0.4 509,0.4 H537.0 Q541.0,0.4 541.0,4.5 V71.6 Z" fill="url(#gr)"/><circle cx="507.3" cy="12.2" r="1.35" fill="#161616"/><circle cx="506.6" cy="11.7" r="0.5" fill="#e8e8e8"/><circle cx="507.3" cy="26.0" r="1.35" fill="#161616"/><circle cx="506.6" cy="25.5" r="0.5" fill="#e8e8e8"/><circle cx="507.3" cy="39.8" r="1.35" fill="#161616"/><circle cx="506.6" cy="39.3" r="0.5" fill="#e8e8e8"/><circle cx="507.3" cy="53.5" r="1.35" fill="#161616"/><circle cx="506.6" cy="53.0" r="0.5" fill="#e8e8e8"/><circle cx="507.3" cy="67.2" r="1.35" fill="#161616"/><circle cx="506.6" cy="66.7" r="0.5" fill="#e8e8e8"/><circle cx="521.3" cy="12.2" r="1.35" fill="#161616"/><circle cx="520.6" cy="11.7" r="0.5" fill="#e8e8e8"/><circle cx="521.3" cy="26.0" r="1.35" fill="#161616"/><circle cx="520.6" cy="25.5" r="0.5" fill="#e8e8e8"/><circle cx="521.3" cy="39.8" r="1.35" fill="#161616"/><circle cx="520.6" cy="39.3" r="0.5" fill="#e8e8e8"/><circle cx="521.3" cy="53.5" r="1.35" fill="#161616"/><circle cx="520.6" cy="53.0" r="0.5" fill="#e8e8e8"/><circle cx="521.3" cy="67.2" r="1.35" fill="#161616"/><circle cx="520.6" cy="66.7" r="0.5" fill="#e8e8e8"/><circle cx="535.3" cy="12.2" r="1.35" fill="#161616"/><circle cx="534.6" cy="11.7" r="0.5" fill="#e8e8e8"/><circle cx="535.3" cy="26.0" r="1.35" fill="#161616"/><circle cx="534.6" cy="25.5" r="0.5" fill="#e8e8e8"/><circle cx="535.3" cy="39.8" r="1.35" fill="#161616"/><circle cx="534.6" cy="39.3" r="0.5" fill="#e8e8e8"/><circle cx="535.3" cy="53.5" r="1.35" fill="#161616"/><circle cx="534.6" cy="53.0" r="0.5" fill="#e8e8e8"/><circle cx="535.3" cy="67.2" r="1.35" fill="#161616"/><circle cx="534.6" cy="66.7" r="0.5" fill="#e8e8e8"/><g transform="translate(0,1.9)" filter="url(#bl)"><path d="M350.2,23.0 L491.4,27.0 Q493.4,37.9 491.4,48.8 L350.2,46.2 Z" fill="url(#gt)"/><path d="M350.2,23.0 L361,23.35 V46.45 L350.2,46.2 Z" fill="url(#gtl)"/><path d="M374,24.67 L450,26.83 V33.33 L374,32.17 Z" fill="#5a5a5a" opacity="0.3"/><path d="M350.2,23.9 L491.4,27.3" stroke="#a6a6a6" stroke-width="1.25"/><path d="M350.2,25.6 L431.4,26.8" stroke="#5a5a5a" stroke-width="0.9"/><path d="M350.2,45.5 L491.4,48.4" stroke="#adadad" stroke-width="1.15"/><path d="M350.7,23.0 V46.2" stroke="#8a8a8a" stroke-width="1"/><path d="M491.4,27.0 Q493.4,37.9 491.4,48.8" stroke="#a0a0a0" stroke-width="1.1" fill="none"/><path d="M481.9,28.0 Q484.9,37.9 481.9,47.8" stroke="#7c7c7c" stroke-width="0.9" fill="none"/><path d="M481.9,28.0 Q484.9,37.9 481.9,47.8 L491.4,47.8 Q493.4,37.9 491.4,28.0 Z" fill="#2e2e2e" opacity="0.8"/><rect x="361.8" y="5.9" width="11.5" height="53.3" rx="5.8" fill="#e2e2e0"/><rect x="361.0" y="19.6" width="12.4" height="28.2" rx="1.2" fill="#efefed"/><path d="M361.5,20.0 H372.90000000000003" stroke="#f8f8f6" stroke-width="1"/><path d="M361.5,47.4 H372.90000000000003" stroke="#c4c4c0" stroke-width="0.8"/><circle cx="367.5" cy="11.100000000000001" r="1.2" fill="#aaaaa6"/><circle cx="367.5" cy="53.800000000000004" r="1.4" fill="#4a4a4a"/><rect x="465.5" y="10.2" width="12.0" height="51.4" rx="6.0" fill="#e2e2e0"/><path d="M466.6,22.4 H480.8 Q477.6,36.8 480.8,51.2 H466.6 Q465.8,36.8 466.6,22.4 Z" fill="#efefed"/><path d="M467.1,22.799999999999997 H480.3" stroke="#f8f8f6" stroke-width="1"/><path d="M467.1,50.800000000000004 H480.3" stroke="#c4c4c0" stroke-width="0.8"/><circle cx="471.5" cy="15.399999999999999" r="1.2" fill="#aaaaa6"/><circle cx="471.5" cy="56.2" r="1.4" fill="#4a4a4a"/><path d="M453.8,28.200000000000003 Q459.55,27.3 465.3,28.400000000000002 Q467.8,28.500000000000004 467.6,31.900000000000002 L468.40000000000003,38.0 L467.5,43.3 Q467.40000000000003,46.3 464.8,46.099999999999994 L454.3,46.5 Q451.6,46.3 451.7,43.3 L451.0,37.1 L451.6,30.900000000000002 Q451.5,28.3 453.8,28.200000000000003 Z" fill="#e3e6db"/><circle cx="460.0" cy="37.1" r="1.2" fill="#8c4526"/><circle cx="456.2" cy="39.3" r="2.6" fill="#f3f3ec" opacity="0.7"/><path d="M467.8,23.3 H480.9 Q477.7,37 480.9,31 Z" fill="none"/></g><rect x="496.8" y="55.9" width="44.2" height="13.80" fill="#fff"/><text x="536.9" y="66.1" text-anchor="end" font-family='"Liberation Serif", "Times New Roman", serif' font-size="11" fill="#111" stroke="#111" stroke-width="0.05"><tspan font-style="italic">t</tspan> = 8.6 s</text></g>
</svg>
</body></html>
